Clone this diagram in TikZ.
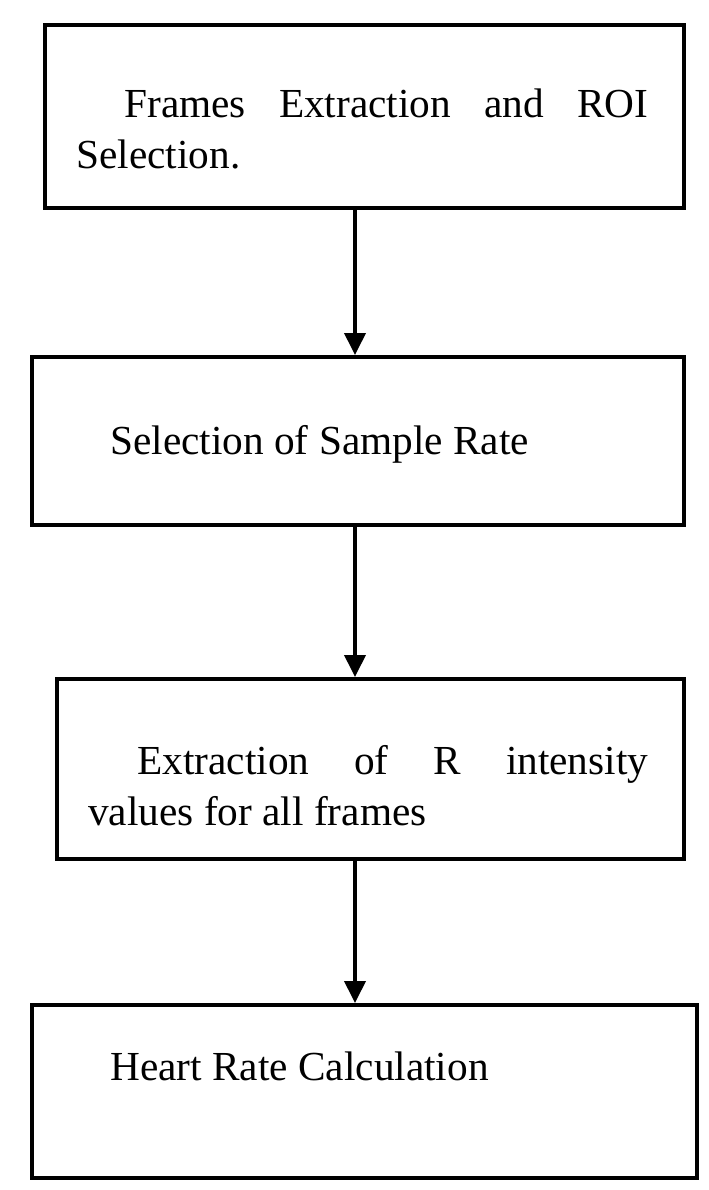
\documentclass[tikz,border=0pt]{standalone}
\usepackage{fontspec}
\setmainfont{Liberation Serif}
\usetikzlibrary{arrows.meta}
\begin{document}
\begin{tikzpicture}[x=0.02cm, y=-0.02cm,
    box/.style={draw, line width=2.2pt, rectangle, inner sep=0pt},
    txt/.style={font=\fontsize{23.5}{28.5}\selectfont, inner sep=0pt, align=left},
    arr/.style={line width=2.2pt, -{Triangle[length=0.44cm, width=0.42cm]}}]
    \useasboundingbox (0,0) rectangle (709,1190);

    % Boxes
    \node[box, minimum width=12.78cm, minimum height=3.66cm, anchor=north west] (frames) at (43,23) {};
    \node[box, minimum width=13.04cm, minimum height=3.36cm, anchor=north west] (sample) at (30,355) {};
    \node[box, minimum width=12.54cm, minimum height=3.6cm, anchor=north west] (intens) at (55,677) {};
    \node[box, minimum width=13.3cm, minimum height=3.46cm, anchor=north west] (heart) at (30,1003) {};

    % Texts
    \node[txt, anchor=base west] (t1) at (76,168)
        {\hspace*{0.96cm}\makebox[10.48cm][s]{Frames Extraction and ROI}\\Selection.};
    \node[txt, anchor=base west] (t2) at (110,454) {Selection of Sample Rate};
    \node[txt, anchor=base west] (t3) at (88,825)
        {\hspace*{0.98cm}\makebox[10.22cm][s]{Extraction of R intensity}\\values for all frames};
    \node[txt, anchor=base west] (t4) at (110,1080) {Heart Rate Calculation};

    % Arrows
    \coordinate (ax) at (355,0);
    \draw[arr] (frames.south -| ax) -- (sample.north -| ax);
    \draw[arr] (sample.south -| ax) -- (intens.north -| ax);
    \draw[arr] (intens.south -| ax) -- (heart.north -| ax);
\end{tikzpicture}
\end{document}
